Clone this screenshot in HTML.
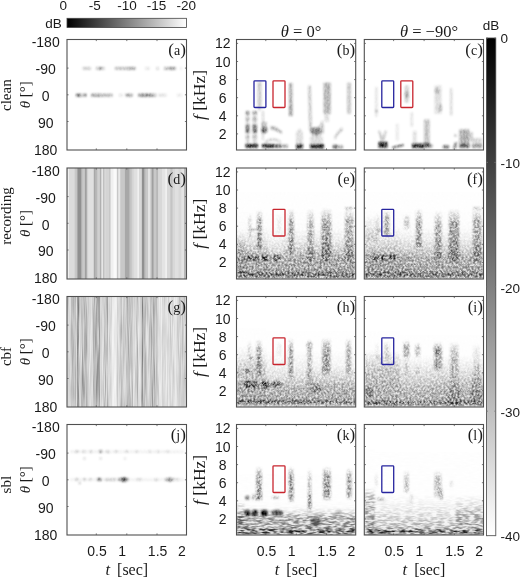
<!DOCTYPE html>
<html><head><meta charset="utf-8"><title>figure</title>
<style>
html,body{margin:0;padding:0;background:#fff;overflow:hidden;width:520px;height:580px;}
svg{display:block;}
.S{font-family:'Liberation Sans', Arial, sans-serif;fill:#1a1a1a;}
.R{font-family:'Liberation Serif', 'Times New Roman', serif;fill:#1a1a1a;}
.i{font-style:italic;}
</style></head><body>
<svg width="520" height="580" viewBox="0 0 520 580">
<rect width="520" height="580" fill="#fff"/>
<defs><clipPath id="ca"><rect x="67.0" y="39.5" width="119.5" height="110.5"/></clipPath><filter id="fa" filterUnits="userSpaceOnUse" x="67.0" y="39.5" width="119.5" height="110.5" color-interpolation-filters="sRGB"><feGaussianBlur in="SourceGraphic" stdDeviation="1.0" result="b"/><feTurbulence type="fractalNoise" baseFrequency="0.5 0.3" numOctaves="2" seed="2" result="t"/><feColorMatrix in="t" type="matrix" values="0 0 0 0 0 0 0 0 0 0 0 0 0 0 0 2.2 0 0 0 -0.6" result="n"/><feComposite in="b" in2="n" operator="arithmetic" k1="0.4" k2="0.8" k3="0" k4="0"/></filter><clipPath id="cb"><rect x="236.5" y="39.5" width="119.2" height="110.5"/></clipPath><filter id="fb" filterUnits="userSpaceOnUse" x="236.5" y="39.5" width="119.2" height="110.5" color-interpolation-filters="sRGB"><feGaussianBlur in="SourceGraphic" stdDeviation="1.0" result="b"/><feTurbulence type="fractalNoise" baseFrequency="0.5 0.3" numOctaves="2" seed="3" result="t"/><feColorMatrix in="t" type="matrix" values="0 0 0 0 0 0 0 0 0 0 0 0 0 0 0 2.2 0 0 0 -0.6" result="n"/><feComposite in="b" in2="n" operator="arithmetic" k1="0.4" k2="0.8" k3="0" k4="0"/></filter><clipPath id="cc"><rect x="364.3" y="39.5" width="119.2" height="110.5"/></clipPath><filter id="fc" filterUnits="userSpaceOnUse" x="364.3" y="39.5" width="119.2" height="110.5" color-interpolation-filters="sRGB"><feGaussianBlur in="SourceGraphic" stdDeviation="1.0" result="b"/><feTurbulence type="fractalNoise" baseFrequency="0.5 0.3" numOctaves="2" seed="4" result="t"/><feColorMatrix in="t" type="matrix" values="0 0 0 0 0 0 0 0 0 0 0 0 0 0 0 2.2 0 0 0 -0.6" result="n"/><feComposite in="b" in2="n" operator="arithmetic" k1="0.4" k2="0.8" k3="0" k4="0"/></filter><clipPath id="cd"><rect x="67.0" y="168.0" width="119.5" height="111.0"/></clipPath><filter id="fd" filterUnits="userSpaceOnUse" x="67.0" y="168.0" width="119.5" height="111.0" color-interpolation-filters="sRGB"><feGaussianBlur in="SourceGraphic" stdDeviation="0.5 0"/></filter><clipPath id="ce"><rect x="236.5" y="168.0" width="119.2" height="111.0"/></clipPath><filter id="fe" filterUnits="userSpaceOnUse" x="236.5" y="168.0" width="119.2" height="111.0" color-interpolation-filters="sRGB"><feGaussianBlur in="SourceGraphic" stdDeviation="0.9" result="b"/><feTurbulence type="fractalNoise" baseFrequency="0.5 0.42" numOctaves="2" seed="6" result="t"/><feColorMatrix in="t" type="matrix" values="0 0 0 0 0 0 0 0 0 0 0 0 0 0 0 2.2 0 0 0 -0.6" result="n0"/><feGaussianBlur in="n0" stdDeviation="0.6" result="n"/><feComposite in="b" in2="n" operator="arithmetic" k1="1.3" k2="0.35" k3="0" k4="0"/></filter><linearGradient id="vg1" gradientUnits="userSpaceOnUse" x1="0" x2="0" y1="168" y2="279"><stop offset="0.0000" stop-opacity="0.0"/><stop offset="0.3333" stop-opacity="0.003"/><stop offset="0.5405" stop-opacity="0.012"/><stop offset="0.6486" stop-opacity="0.08"/><stop offset="0.7387" stop-opacity="0.2"/><stop offset="0.8108" stop-opacity="0.3"/><stop offset="0.9369" stop-opacity="0.33"/><stop offset="0.9459" stop-opacity="0.5"/><stop offset="0.9775" stop-opacity="0.5"/><stop offset="0.9820" stop-opacity="0.25"/><stop offset="1.0000" stop-opacity="0.25"/></linearGradient><linearGradient id="vg2" gradientUnits="userSpaceOnUse" x1="0" x2="0" y1="168" y2="279"><stop offset="0.0000" stop-opacity="0.0"/><stop offset="0.3333" stop-opacity="0.003"/><stop offset="0.5405" stop-opacity="0.01"/><stop offset="0.6486" stop-opacity="0.05"/><stop offset="0.7387" stop-opacity="0.12"/><stop offset="0.8108" stop-opacity="0.28"/><stop offset="0.9369" stop-opacity="0.33"/><stop offset="0.9459" stop-opacity="0.5"/><stop offset="0.9775" stop-opacity="0.5"/><stop offset="0.9820" stop-opacity="0.25"/><stop offset="1.0000" stop-opacity="0.25"/></linearGradient><linearGradient id="vg3" gradientUnits="userSpaceOnUse" x1="0" x2="0" y1="168" y2="279"><stop offset="0.0000" stop-opacity="0.0"/><stop offset="0.3333" stop-opacity="0.003"/><stop offset="0.5405" stop-opacity="0.012"/><stop offset="0.6486" stop-opacity="0.07"/><stop offset="0.7387" stop-opacity="0.17"/><stop offset="0.8108" stop-opacity="0.3"/><stop offset="0.9369" stop-opacity="0.33"/><stop offset="0.9459" stop-opacity="0.5"/><stop offset="0.9775" stop-opacity="0.5"/><stop offset="0.9820" stop-opacity="0.25"/><stop offset="1.0000" stop-opacity="0.25"/></linearGradient><linearGradient id="vg4" gradientUnits="userSpaceOnUse" x1="0" x2="0" y1="234" y2="279"><stop offset="0.0000" stop-opacity="0"/><stop offset="0.2444" stop-opacity="0.1"/><stop offset="1.0000" stop-opacity="0.1"/></linearGradient><linearGradient id="vg5" gradientUnits="userSpaceOnUse" x1="0" x2="0" y1="210" y2="250"><stop offset="0.0000" stop-opacity="0"/><stop offset="0.3000" stop-opacity="0.322"/><stop offset="0.8500" stop-opacity="0.322"/><stop offset="1.0000" stop-opacity="0.1288"/></linearGradient><linearGradient id="vg6" gradientUnits="userSpaceOnUse" x1="0" x2="0" y1="213" y2="240"><stop offset="0.0000" stop-opacity="0"/><stop offset="0.3000" stop-opacity="0.138"/><stop offset="0.8500" stop-opacity="0.138"/><stop offset="1.0000" stop-opacity="0.055200000000000006"/></linearGradient><linearGradient id="vg7" gradientUnits="userSpaceOnUse" x1="0" x2="0" y1="209" y2="255"><stop offset="0.0000" stop-opacity="0"/><stop offset="0.3000" stop-opacity="0.322"/><stop offset="0.8500" stop-opacity="0.322"/><stop offset="1.0000" stop-opacity="0.1288"/></linearGradient><linearGradient id="vg8" gradientUnits="userSpaceOnUse" x1="0" x2="0" y1="214" y2="234"><stop offset="0.0000" stop-opacity="0"/><stop offset="0.3000" stop-opacity="0.055"/><stop offset="0.8500" stop-opacity="0.055"/><stop offset="1.0000" stop-opacity="0.022000000000000002"/></linearGradient><linearGradient id="vg9" gradientUnits="userSpaceOnUse" x1="0" x2="0" y1="209" y2="262"><stop offset="0.0000" stop-opacity="0"/><stop offset="0.3000" stop-opacity="0.258"/><stop offset="0.8500" stop-opacity="0.258"/><stop offset="1.0000" stop-opacity="0.10320000000000001"/></linearGradient><linearGradient id="vg10" gradientUnits="userSpaceOnUse" x1="0" x2="0" y1="208" y2="262"><stop offset="0.0000" stop-opacity="0"/><stop offset="0.3000" stop-opacity="0.322"/><stop offset="0.8500" stop-opacity="0.322"/><stop offset="1.0000" stop-opacity="0.1288"/></linearGradient><linearGradient id="vg11" gradientUnits="userSpaceOnUse" x1="0" x2="0" y1="208" y2="262"><stop offset="0.0000" stop-opacity="0"/><stop offset="0.3000" stop-opacity="0.258"/><stop offset="0.8500" stop-opacity="0.258"/><stop offset="1.0000" stop-opacity="0.10320000000000001"/></linearGradient><clipPath id="cf"><rect x="364.3" y="168.0" width="119.2" height="111.0"/></clipPath><filter id="ff" filterUnits="userSpaceOnUse" x="364.3" y="168.0" width="119.2" height="111.0" color-interpolation-filters="sRGB"><feGaussianBlur in="SourceGraphic" stdDeviation="0.9" result="b"/><feTurbulence type="fractalNoise" baseFrequency="0.5 0.42" numOctaves="2" seed="7" result="t"/><feColorMatrix in="t" type="matrix" values="0 0 0 0 0 0 0 0 0 0 0 0 0 0 0 2.2 0 0 0 -0.6" result="n0"/><feGaussianBlur in="n0" stdDeviation="0.6" result="n"/><feComposite in="b" in2="n" operator="arithmetic" k1="1.3" k2="0.35" k3="0" k4="0"/></filter><linearGradient id="vg12" gradientUnits="userSpaceOnUse" x1="0" x2="0" y1="168" y2="279"><stop offset="0.0000" stop-opacity="0.0"/><stop offset="0.3333" stop-opacity="0.003"/><stop offset="0.5405" stop-opacity="0.015"/><stop offset="0.6486" stop-opacity="0.1"/><stop offset="0.7387" stop-opacity="0.2"/><stop offset="0.8108" stop-opacity="0.33"/><stop offset="0.9369" stop-opacity="0.35"/><stop offset="0.9459" stop-opacity="0.5"/><stop offset="0.9775" stop-opacity="0.5"/><stop offset="0.9820" stop-opacity="0.25"/><stop offset="1.0000" stop-opacity="0.25"/></linearGradient><linearGradient id="vg13" gradientUnits="userSpaceOnUse" x1="0" x2="0" y1="168" y2="279"><stop offset="0.0000" stop-opacity="0.0"/><stop offset="0.3333" stop-opacity="0.003"/><stop offset="0.5405" stop-opacity="0.012"/><stop offset="0.6486" stop-opacity="0.07"/><stop offset="0.7387" stop-opacity="0.17"/><stop offset="0.8108" stop-opacity="0.3"/><stop offset="0.9369" stop-opacity="0.35"/><stop offset="0.9459" stop-opacity="0.5"/><stop offset="0.9775" stop-opacity="0.5"/><stop offset="0.9820" stop-opacity="0.25"/><stop offset="1.0000" stop-opacity="0.25"/></linearGradient><linearGradient id="vg14" gradientUnits="userSpaceOnUse" x1="0" x2="0" y1="168" y2="279"><stop offset="0.0000" stop-opacity="0.0"/><stop offset="0.3333" stop-opacity="0.003"/><stop offset="0.5405" stop-opacity="0.012"/><stop offset="0.6486" stop-opacity="0.07"/><stop offset="0.7387" stop-opacity="0.16"/><stop offset="0.8108" stop-opacity="0.28"/><stop offset="0.9369" stop-opacity="0.33"/><stop offset="0.9459" stop-opacity="0.48"/><stop offset="0.9775" stop-opacity="0.48"/><stop offset="0.9820" stop-opacity="0.25"/><stop offset="1.0000" stop-opacity="0.25"/></linearGradient><linearGradient id="vg15" gradientUnits="userSpaceOnUse" x1="0" x2="0" y1="215" y2="241"><stop offset="0.0000" stop-opacity="0"/><stop offset="0.5769" stop-opacity="0.08"/><stop offset="1.0000" stop-opacity="0.12"/></linearGradient><linearGradient id="vg16" gradientUnits="userSpaceOnUse" x1="0" x2="0" y1="211" y2="236"><stop offset="0.0000" stop-opacity="0"/><stop offset="0.3000" stop-opacity="0.322"/><stop offset="0.8500" stop-opacity="0.322"/><stop offset="1.0000" stop-opacity="0.1288"/></linearGradient><linearGradient id="vg17" gradientUnits="userSpaceOnUse" x1="0" x2="0" y1="213" y2="235"><stop offset="0.0000" stop-opacity="0"/><stop offset="0.3000" stop-opacity="0.11"/><stop offset="0.8500" stop-opacity="0.11"/><stop offset="1.0000" stop-opacity="0.044000000000000004"/></linearGradient><linearGradient id="vg18" gradientUnits="userSpaceOnUse" x1="0" x2="0" y1="215" y2="229"><stop offset="0.0000" stop-opacity="0"/><stop offset="0.3000" stop-opacity="0.184"/><stop offset="0.8500" stop-opacity="0.184"/><stop offset="1.0000" stop-opacity="0.0736"/></linearGradient><linearGradient id="vg19" gradientUnits="userSpaceOnUse" x1="0" x2="0" y1="209" y2="250"><stop offset="0.0000" stop-opacity="0"/><stop offset="0.3000" stop-opacity="0.322"/><stop offset="0.8500" stop-opacity="0.322"/><stop offset="1.0000" stop-opacity="0.1288"/></linearGradient><linearGradient id="vg20" gradientUnits="userSpaceOnUse" x1="0" x2="0" y1="211" y2="262"><stop offset="0.0000" stop-opacity="0"/><stop offset="0.3000" stop-opacity="0.276"/><stop offset="0.8500" stop-opacity="0.276"/><stop offset="1.0000" stop-opacity="0.11040000000000001"/></linearGradient><linearGradient id="vg21" gradientUnits="userSpaceOnUse" x1="0" x2="0" y1="209" y2="262"><stop offset="0.0000" stop-opacity="0"/><stop offset="0.3000" stop-opacity="0.322"/><stop offset="0.8500" stop-opacity="0.322"/><stop offset="1.0000" stop-opacity="0.1288"/></linearGradient><linearGradient id="vg22" gradientUnits="userSpaceOnUse" x1="0" x2="0" y1="208" y2="262"><stop offset="0.0000" stop-opacity="0"/><stop offset="0.3000" stop-opacity="0.276"/><stop offset="0.8500" stop-opacity="0.276"/><stop offset="1.0000" stop-opacity="0.11040000000000001"/></linearGradient><clipPath id="cg"><rect x="67.0" y="296.5" width="119.5" height="110.5"/></clipPath><filter id="fg" filterUnits="userSpaceOnUse" x="67.0" y="296.5" width="119.5" height="110.5" color-interpolation-filters="sRGB"><feGaussianBlur in="SourceGraphic" stdDeviation="0.5 0" result="b"/><feTurbulence type="fractalNoise" baseFrequency="0.8 0.025" numOctaves="2" seed="8" result="t"/><feColorMatrix in="t" type="matrix" values="0 0 0 0 0 0 0 0 0 0 0 0 0 0 0 2.0 0 0 0 -0.5" result="n"/><feComposite in="b" in2="n" operator="arithmetic" k1="0.9" k2="0.55" k3="0" k4="0"/></filter><clipPath id="ch"><rect x="236.5" y="296.5" width="119.2" height="110.5"/></clipPath><filter id="fh" filterUnits="userSpaceOnUse" x="236.5" y="296.5" width="119.2" height="110.5" color-interpolation-filters="sRGB"><feGaussianBlur in="SourceGraphic" stdDeviation="0.9" result="b"/><feTurbulence type="fractalNoise" baseFrequency="0.5 0.42" numOctaves="2" seed="9" result="t"/><feColorMatrix in="t" type="matrix" values="0 0 0 0 0 0 0 0 0 0 0 0 0 0 0 2.2 0 0 0 -0.6" result="n0"/><feGaussianBlur in="n0" stdDeviation="0.6" result="n"/><feComposite in="b" in2="n" operator="arithmetic" k1="1.3" k2="0.35" k3="0" k4="0"/></filter><linearGradient id="vg23" gradientUnits="userSpaceOnUse" x1="0" x2="0" y1="296.5" y2="407"><stop offset="0.0000" stop-opacity="0.0"/><stop offset="0.4389" stop-opacity="0.003"/><stop offset="0.5566" stop-opacity="0.06"/><stop offset="0.6290" stop-opacity="0.16"/><stop offset="0.7557" stop-opacity="0.24"/><stop offset="0.8281" stop-opacity="0.3"/><stop offset="0.9367" stop-opacity="0.32"/><stop offset="0.9412" stop-opacity="0.55"/><stop offset="0.9729" stop-opacity="0.55"/><stop offset="0.9774" stop-opacity="0.18"/><stop offset="1.0000" stop-opacity="0.18"/></linearGradient><linearGradient id="vg24" gradientUnits="userSpaceOnUse" x1="0" x2="0" y1="296.5" y2="407"><stop offset="0.0000" stop-opacity="0.0"/><stop offset="0.4842" stop-opacity="0.003"/><stop offset="0.6290" stop-opacity="0.05"/><stop offset="0.7376" stop-opacity="0.12"/><stop offset="0.8281" stop-opacity="0.26"/><stop offset="0.9367" stop-opacity="0.3"/><stop offset="0.9412" stop-opacity="0.5"/><stop offset="0.9729" stop-opacity="0.5"/><stop offset="0.9774" stop-opacity="0.18"/><stop offset="1.0000" stop-opacity="0.18"/></linearGradient><linearGradient id="vg25" gradientUnits="userSpaceOnUse" x1="0" x2="0" y1="296.5" y2="407"><stop offset="0.0000" stop-opacity="0.0"/><stop offset="0.4842" stop-opacity="0.003"/><stop offset="0.6290" stop-opacity="0.04"/><stop offset="0.7376" stop-opacity="0.15"/><stop offset="0.8281" stop-opacity="0.28"/><stop offset="0.9367" stop-opacity="0.3"/><stop offset="0.9412" stop-opacity="0.45"/><stop offset="0.9729" stop-opacity="0.45"/><stop offset="0.9774" stop-opacity="0.18"/><stop offset="1.0000" stop-opacity="0.18"/></linearGradient><linearGradient id="vg26" gradientUnits="userSpaceOnUse" x1="0" x2="0" y1="339.4" y2="376"><stop offset="0.0000" stop-opacity="0"/><stop offset="0.3000" stop-opacity="0.322"/><stop offset="0.8500" stop-opacity="0.322"/><stop offset="1.0000" stop-opacity="0.1288"/></linearGradient><linearGradient id="vg27" gradientUnits="userSpaceOnUse" x1="0" x2="0" y1="340.8" y2="362.3"><stop offset="0.0000" stop-opacity="0"/><stop offset="0.3000" stop-opacity="0.138"/><stop offset="0.8500" stop-opacity="0.138"/><stop offset="1.0000" stop-opacity="0.055200000000000006"/></linearGradient><linearGradient id="vg28" gradientUnits="userSpaceOnUse" x1="0" x2="0" y1="338" y2="380"><stop offset="0.0000" stop-opacity="0"/><stop offset="0.3000" stop-opacity="0.322"/><stop offset="0.8500" stop-opacity="0.322"/><stop offset="1.0000" stop-opacity="0.1288"/></linearGradient><linearGradient id="vg29" gradientUnits="userSpaceOnUse" x1="0" x2="0" y1="342" y2="355"><stop offset="0.0000" stop-opacity="0"/><stop offset="0.3000" stop-opacity="0.055"/><stop offset="0.8500" stop-opacity="0.055"/><stop offset="1.0000" stop-opacity="0.022000000000000002"/></linearGradient><linearGradient id="vg30" gradientUnits="userSpaceOnUse" x1="0" x2="0" y1="339.4" y2="384"><stop offset="0.0000" stop-opacity="0"/><stop offset="0.3000" stop-opacity="0.23"/><stop offset="0.8500" stop-opacity="0.23"/><stop offset="1.0000" stop-opacity="0.09200000000000001"/></linearGradient><linearGradient id="vg31" gradientUnits="userSpaceOnUse" x1="0" x2="0" y1="338" y2="375"><stop offset="0.0000" stop-opacity="0"/><stop offset="0.3000" stop-opacity="0.322"/><stop offset="0.8500" stop-opacity="0.322"/><stop offset="1.0000" stop-opacity="0.1288"/></linearGradient><linearGradient id="vg32" gradientUnits="userSpaceOnUse" x1="0" x2="0" y1="338" y2="375"><stop offset="0.0000" stop-opacity="0"/><stop offset="0.3000" stop-opacity="0.276"/><stop offset="0.8500" stop-opacity="0.276"/><stop offset="1.0000" stop-opacity="0.11040000000000001"/></linearGradient><clipPath id="ci"><rect x="364.3" y="296.5" width="119.2" height="110.5"/></clipPath><filter id="fi" filterUnits="userSpaceOnUse" x="364.3" y="296.5" width="119.2" height="110.5" color-interpolation-filters="sRGB"><feGaussianBlur in="SourceGraphic" stdDeviation="0.9" result="b"/><feTurbulence type="fractalNoise" baseFrequency="0.5 0.42" numOctaves="2" seed="10" result="t"/><feColorMatrix in="t" type="matrix" values="0 0 0 0 0 0 0 0 0 0 0 0 0 0 0 2.2 0 0 0 -0.6" result="n0"/><feGaussianBlur in="n0" stdDeviation="0.6" result="n"/><feComposite in="b" in2="n" operator="arithmetic" k1="1.3" k2="0.35" k3="0" k4="0"/></filter><linearGradient id="vg33" gradientUnits="userSpaceOnUse" x1="0" x2="0" y1="296.5" y2="407"><stop offset="0.0000" stop-opacity="0.0"/><stop offset="0.4842" stop-opacity="0.003"/><stop offset="0.5928" stop-opacity="0.12"/><stop offset="0.6833" stop-opacity="0.2"/><stop offset="0.8009" stop-opacity="0.27"/><stop offset="0.9439" stop-opacity="0.3"/><stop offset="0.9484" stop-opacity="0.5"/><stop offset="0.9792" stop-opacity="0.5"/><stop offset="0.9837" stop-opacity="0.18"/><stop offset="1.0000" stop-opacity="0.18"/></linearGradient><linearGradient id="vg34" gradientUnits="userSpaceOnUse" x1="0" x2="0" y1="296.5" y2="407"><stop offset="0.0000" stop-opacity="0.0"/><stop offset="0.5294" stop-opacity="0.003"/><stop offset="0.6290" stop-opacity="0.06"/><stop offset="0.7376" stop-opacity="0.14"/><stop offset="0.8462" stop-opacity="0.25"/><stop offset="0.9439" stop-opacity="0.28"/><stop offset="0.9484" stop-opacity="0.45"/><stop offset="0.9792" stop-opacity="0.45"/><stop offset="0.9837" stop-opacity="0.18"/><stop offset="1.0000" stop-opacity="0.18"/></linearGradient><linearGradient id="vg35" gradientUnits="userSpaceOnUse" x1="0" x2="0" y1="296.5" y2="407"><stop offset="0.0000" stop-opacity="0.0"/><stop offset="0.5294" stop-opacity="0.003"/><stop offset="0.6290" stop-opacity="0.06"/><stop offset="0.7376" stop-opacity="0.16"/><stop offset="0.8462" stop-opacity="0.27"/><stop offset="0.9439" stop-opacity="0.3"/><stop offset="0.9484" stop-opacity="0.45"/><stop offset="0.9792" stop-opacity="0.45"/><stop offset="0.9837" stop-opacity="0.18"/><stop offset="1.0000" stop-opacity="0.18"/></linearGradient><linearGradient id="vg36" gradientUnits="userSpaceOnUse" x1="0" x2="0" y1="340.8" y2="361"><stop offset="0.0000" stop-opacity="0"/><stop offset="0.3000" stop-opacity="0.129"/><stop offset="0.8500" stop-opacity="0.129"/><stop offset="1.0000" stop-opacity="0.05160000000000001"/></linearGradient><linearGradient id="vg37" gradientUnits="userSpaceOnUse" x1="0" x2="0" y1="342" y2="358"><stop offset="0.0000" stop-opacity="0"/><stop offset="0.3000" stop-opacity="0.092"/><stop offset="0.8500" stop-opacity="0.092"/><stop offset="1.0000" stop-opacity="0.0368"/></linearGradient><linearGradient id="vg38" gradientUnits="userSpaceOnUse" x1="0" x2="0" y1="340.8" y2="358"><stop offset="0.0000" stop-opacity="0"/><stop offset="0.3000" stop-opacity="0.276"/><stop offset="0.8500" stop-opacity="0.276"/><stop offset="1.0000" stop-opacity="0.11040000000000001"/></linearGradient><linearGradient id="vg39" gradientUnits="userSpaceOnUse" x1="0" x2="0" y1="357" y2="377"><stop offset="0.0000" stop-opacity="0"/><stop offset="0.3000" stop-opacity="0.11"/><stop offset="0.8500" stop-opacity="0.11"/><stop offset="1.0000" stop-opacity="0.044000000000000004"/></linearGradient><linearGradient id="vg40" gradientUnits="userSpaceOnUse" x1="0" x2="0" y1="343" y2="357"><stop offset="0.0000" stop-opacity="0"/><stop offset="0.3000" stop-opacity="0.202"/><stop offset="0.8500" stop-opacity="0.202"/><stop offset="1.0000" stop-opacity="0.08080000000000001"/></linearGradient><linearGradient id="vg41" gradientUnits="userSpaceOnUse" x1="0" x2="0" y1="366" y2="375"><stop offset="0.0000" stop-opacity="0"/><stop offset="0.3000" stop-opacity="0.11"/><stop offset="0.8500" stop-opacity="0.11"/><stop offset="1.0000" stop-opacity="0.044000000000000004"/></linearGradient><linearGradient id="vg42" gradientUnits="userSpaceOnUse" x1="0" x2="0" y1="342" y2="371"><stop offset="0.0000" stop-opacity="0"/><stop offset="0.3000" stop-opacity="0.276"/><stop offset="0.8500" stop-opacity="0.276"/><stop offset="1.0000" stop-opacity="0.11040000000000001"/></linearGradient><linearGradient id="vg43" gradientUnits="userSpaceOnUse" x1="0" x2="0" y1="342" y2="375"><stop offset="0.0000" stop-opacity="0"/><stop offset="0.3000" stop-opacity="0.202"/><stop offset="0.8500" stop-opacity="0.202"/><stop offset="1.0000" stop-opacity="0.08080000000000001"/></linearGradient><linearGradient id="vg44" gradientUnits="userSpaceOnUse" x1="0" x2="0" y1="344" y2="370"><stop offset="0.0000" stop-opacity="0"/><stop offset="0.3000" stop-opacity="0.074"/><stop offset="0.8500" stop-opacity="0.074"/><stop offset="1.0000" stop-opacity="0.0296"/></linearGradient><clipPath id="cj"><rect x="67.0" y="424.5" width="119.5" height="110.5"/></clipPath><filter id="fj" filterUnits="userSpaceOnUse" x="67.0" y="424.5" width="119.5" height="110.5" color-interpolation-filters="sRGB"><feGaussianBlur in="SourceGraphic" stdDeviation="1.0" result="b"/><feTurbulence type="fractalNoise" baseFrequency="0.5 0.3" numOctaves="2" seed="11" result="t"/><feColorMatrix in="t" type="matrix" values="0 0 0 0 0 0 0 0 0 0 0 0 0 0 0 2.2 0 0 0 -0.6" result="n"/><feComposite in="b" in2="n" operator="arithmetic" k1="0.4" k2="0.8" k3="0" k4="0"/></filter><clipPath id="ck"><rect x="236.5" y="424.5" width="119.2" height="110.5"/></clipPath><filter id="fk" filterUnits="userSpaceOnUse" x="236.5" y="424.5" width="119.2" height="110.5" color-interpolation-filters="sRGB"><feGaussianBlur in="SourceGraphic" stdDeviation="0.8" result="b"/><feTurbulence type="fractalNoise" baseFrequency="0.16 0.55" numOctaves="2" seed="12" result="t"/><feColorMatrix in="t" type="matrix" values="0 0 0 0 0 0 0 0 0 0 0 0 0 0 0 2.8 0 0 0 -0.95" result="n0"/><feGaussianBlur in="n0" stdDeviation="0.4" result="n"/><feComposite in="b" in2="n" operator="arithmetic" k1="1.5" k2="0.28" k3="0" k4="0"/></filter><filter id="fk2" filterUnits="userSpaceOnUse" x="236.5" y="424.5" width="119.2" height="110.5" color-interpolation-filters="sRGB"><feGaussianBlur in="SourceGraphic" stdDeviation="0.9" result="b"/><feTurbulence type="fractalNoise" baseFrequency="0.5 0.42" numOctaves="2" seed="30" result="t"/><feColorMatrix in="t" type="matrix" values="0 0 0 0 0 0 0 0 0 0 0 0 0 0 0 2.2 0 0 0 -0.6" result="n0"/><feGaussianBlur in="n0" stdDeviation="0.6" result="n"/><feComposite in="b" in2="n" operator="arithmetic" k1="1.3" k2="0.35" k3="0" k4="0"/></filter><filter id="fk3" filterUnits="userSpaceOnUse" x="236.5" y="424.5" width="119.2" height="110.5" color-interpolation-filters="sRGB"><feGaussianBlur in="SourceGraphic" stdDeviation="1.0" result="b"/><feTurbulence type="fractalNoise" baseFrequency="0.5 0.3" numOctaves="2" seed="50" result="t"/><feColorMatrix in="t" type="matrix" values="0 0 0 0 0 0 0 0 0 0 0 0 0 0 0 2.2 0 0 0 -0.6" result="n"/><feComposite in="b" in2="n" operator="arithmetic" k1="0.4" k2="0.8" k3="0" k4="0"/></filter><linearGradient id="vg45" gradientUnits="userSpaceOnUse" x1="0" x2="0" y1="424.5" y2="535"><stop offset="0.0000" stop-opacity="0.0"/><stop offset="0.6833" stop-opacity="0.003"/><stop offset="0.7557" stop-opacity="0.015"/><stop offset="0.8009" stop-opacity="0.1"/><stop offset="0.8371" stop-opacity="0.26"/><stop offset="0.9367" stop-opacity="0.3"/><stop offset="0.9584" stop-opacity="0.5"/><stop offset="0.9910" stop-opacity="0.5"/><stop offset="0.9955" stop-opacity="0.2"/><stop offset="1.0000" stop-opacity="0.2"/></linearGradient><linearGradient id="vg46" gradientUnits="userSpaceOnUse" x1="0" x2="0" y1="500" y2="535"><stop offset="0.0000" stop-opacity="0"/><stop offset="0.2286" stop-opacity="0.12"/><stop offset="1.0000" stop-opacity="0.12"/></linearGradient><linearGradient id="vg47" gradientUnits="userSpaceOnUse" x1="0" x2="0" y1="466.6" y2="500"><stop offset="0.0000" stop-opacity="0"/><stop offset="0.3000" stop-opacity="0.36"/><stop offset="0.8500" stop-opacity="0.36"/><stop offset="1.0000" stop-opacity="0.144"/></linearGradient><linearGradient id="vg48" gradientUnits="userSpaceOnUse" x1="0" x2="0" y1="466.6" y2="502"><stop offset="0.0000" stop-opacity="0"/><stop offset="0.3000" stop-opacity="0.36"/><stop offset="0.8500" stop-opacity="0.36"/><stop offset="1.0000" stop-opacity="0.144"/></linearGradient><linearGradient id="vg49" gradientUnits="userSpaceOnUse" x1="0" x2="0" y1="468" y2="512"><stop offset="0.0000" stop-opacity="0"/><stop offset="0.3000" stop-opacity="0.252"/><stop offset="0.8500" stop-opacity="0.252"/><stop offset="1.0000" stop-opacity="0.1008"/></linearGradient><linearGradient id="vg50" gradientUnits="userSpaceOnUse" x1="0" x2="0" y1="466.6" y2="500"><stop offset="0.0000" stop-opacity="0"/><stop offset="0.3000" stop-opacity="0.342"/><stop offset="0.8500" stop-opacity="0.342"/><stop offset="1.0000" stop-opacity="0.1368"/></linearGradient><linearGradient id="vg51" gradientUnits="userSpaceOnUse" x1="0" x2="0" y1="468" y2="499"><stop offset="0.0000" stop-opacity="0"/><stop offset="0.3000" stop-opacity="0.315"/><stop offset="0.8500" stop-opacity="0.315"/><stop offset="1.0000" stop-opacity="0.126"/></linearGradient><linearGradient id="vg52" gradientUnits="userSpaceOnUse" x1="0" x2="0" y1="492" y2="509"><stop offset="0.0000" stop-opacity="0"/><stop offset="0.3000" stop-opacity="0.27"/><stop offset="0.8500" stop-opacity="0.27"/><stop offset="1.0000" stop-opacity="0.10800000000000001"/></linearGradient><clipPath id="cl"><rect x="364.3" y="424.5" width="119.2" height="110.5"/></clipPath><filter id="fl" filterUnits="userSpaceOnUse" x="364.3" y="424.5" width="119.2" height="110.5" color-interpolation-filters="sRGB"><feGaussianBlur in="SourceGraphic" stdDeviation="0.8" result="b"/><feTurbulence type="fractalNoise" baseFrequency="0.16 0.55" numOctaves="2" seed="13" result="t"/><feColorMatrix in="t" type="matrix" values="0 0 0 0 0 0 0 0 0 0 0 0 0 0 0 2.8 0 0 0 -0.95" result="n0"/><feGaussianBlur in="n0" stdDeviation="0.4" result="n"/><feComposite in="b" in2="n" operator="arithmetic" k1="1.5" k2="0.28" k3="0" k4="0"/></filter><filter id="fl2" filterUnits="userSpaceOnUse" x="364.3" y="424.5" width="119.2" height="110.5" color-interpolation-filters="sRGB"><feGaussianBlur in="SourceGraphic" stdDeviation="0.9" result="b"/><feTurbulence type="fractalNoise" baseFrequency="0.5 0.42" numOctaves="2" seed="31" result="t"/><feColorMatrix in="t" type="matrix" values="0 0 0 0 0 0 0 0 0 0 0 0 0 0 0 2.2 0 0 0 -0.6" result="n0"/><feGaussianBlur in="n0" stdDeviation="0.6" result="n"/><feComposite in="b" in2="n" operator="arithmetic" k1="1.3" k2="0.35" k3="0" k4="0"/></filter><filter id="fl3" filterUnits="userSpaceOnUse" x="364.3" y="424.5" width="119.2" height="110.5" color-interpolation-filters="sRGB"><feGaussianBlur in="SourceGraphic" stdDeviation="1.0" result="b"/><feTurbulence type="fractalNoise" baseFrequency="0.5 0.3" numOctaves="2" seed="51" result="t"/><feColorMatrix in="t" type="matrix" values="0 0 0 0 0 0 0 0 0 0 0 0 0 0 0 2.2 0 0 0 -0.6" result="n"/><feComposite in="b" in2="n" operator="arithmetic" k1="0.4" k2="0.8" k3="0" k4="0"/></filter><linearGradient id="vg53" gradientUnits="userSpaceOnUse" x1="0" x2="0" y1="424.5" y2="535"><stop offset="0.0000" stop-opacity="0.0"/><stop offset="0.5747" stop-opacity="0.005"/><stop offset="0.6380" stop-opacity="0.15"/><stop offset="0.8190" stop-opacity="0.25"/><stop offset="0.9457" stop-opacity="0.35"/><stop offset="0.9584" stop-opacity="0.5"/><stop offset="0.9910" stop-opacity="0.5"/><stop offset="0.9955" stop-opacity="0.2"/><stop offset="1.0000" stop-opacity="0.2"/></linearGradient><linearGradient id="vg54" gradientUnits="userSpaceOnUse" x1="0" x2="0" y1="424.5" y2="535"><stop offset="0.0000" stop-opacity="0.0"/><stop offset="0.6380" stop-opacity="0.005"/><stop offset="0.7285" stop-opacity="0.04"/><stop offset="0.7919" stop-opacity="0.08"/><stop offset="0.8643" stop-opacity="0.14"/><stop offset="0.9457" stop-opacity="0.22"/><stop offset="0.9584" stop-opacity="0.5"/><stop offset="0.9910" stop-opacity="0.5"/><stop offset="0.9955" stop-opacity="0.2"/><stop offset="1.0000" stop-opacity="0.2"/></linearGradient><linearGradient id="vg55" gradientUnits="userSpaceOnUse" x1="0" x2="0" y1="424.5" y2="535"><stop offset="0.0000" stop-opacity="0.0"/><stop offset="0.6380" stop-opacity="0.005"/><stop offset="0.7285" stop-opacity="0.08"/><stop offset="0.7919" stop-opacity="0.18"/><stop offset="0.8643" stop-opacity="0.25"/><stop offset="0.9457" stop-opacity="0.25"/><stop offset="0.9584" stop-opacity="0.5"/><stop offset="0.9910" stop-opacity="0.5"/><stop offset="0.9955" stop-opacity="0.2"/><stop offset="1.0000" stop-opacity="0.2"/></linearGradient><linearGradient id="vg56" gradientUnits="userSpaceOnUse" x1="0" x2="0" y1="470.6" y2="493"><stop offset="0.0000" stop-opacity="0"/><stop offset="0.3000" stop-opacity="0.198"/><stop offset="0.8500" stop-opacity="0.198"/><stop offset="1.0000" stop-opacity="0.0792"/></linearGradient><linearGradient id="vg57" gradientUnits="userSpaceOnUse" x1="0" x2="0" y1="491.9" y2="505"><stop offset="0.0000" stop-opacity="0"/><stop offset="0.3000" stop-opacity="0.135"/><stop offset="0.8500" stop-opacity="0.135"/><stop offset="1.0000" stop-opacity="0.054000000000000006"/></linearGradient><linearGradient id="vg58" gradientUnits="userSpaceOnUse" x1="0" x2="0" y1="473" y2="487"><stop offset="0.0000" stop-opacity="0"/><stop offset="0.3000" stop-opacity="0.108"/><stop offset="0.8500" stop-opacity="0.108"/><stop offset="1.0000" stop-opacity="0.0432"/></linearGradient><linearGradient id="vg59" gradientUnits="userSpaceOnUse" x1="0" x2="0" y1="470.6" y2="497.2"><stop offset="0.0000" stop-opacity="0"/><stop offset="0.3000" stop-opacity="0.198"/><stop offset="0.8500" stop-opacity="0.198"/><stop offset="1.0000" stop-opacity="0.0792"/></linearGradient><linearGradient id="vg60" gradientUnits="userSpaceOnUse" x1="0" x2="0" y1="488" y2="500"><stop offset="0.0000" stop-opacity="0"/><stop offset="0.3000" stop-opacity="0.225"/><stop offset="0.8500" stop-opacity="0.225"/><stop offset="1.0000" stop-opacity="0.09000000000000001"/></linearGradient><linearGradient id="vg61" gradientUnits="userSpaceOnUse" x1="0" x2="0" y1="480" y2="487"><stop offset="0.0000" stop-opacity="0"/><stop offset="0.3000" stop-opacity="0.108"/><stop offset="0.8500" stop-opacity="0.108"/><stop offset="1.0000" stop-opacity="0.0432"/></linearGradient></defs>
<g clip-path="url(#ca)"><g filter="url(#fa)" fill="#000"><rect x="82.7" y="67" width="8.3" height="2.8" fill-opacity="0.2"/><rect x="95.8" y="67" width="8.9" height="2.8" fill-opacity="0.2"/><rect x="98.8" y="67" width="2.4" height="2.8" fill-opacity="0.35"/><rect x="114.9" y="67" width="13.1" height="2.8" fill-opacity="0.25"/><rect x="128" y="67" width="7.5" height="2.8" fill-opacity="0.35"/><rect x="145" y="67" width="4.8" height="2.8" fill-opacity="0.1"/><rect x="156.4" y="67" width="2.4" height="2.8" fill-opacity="0.18"/><rect x="164" y="67" width="12.0" height="2.8" fill-opacity="0.28"/><rect x="170" y="67" width="4.0" height="2.8" fill-opacity="0.2"/><rect x="180" y="67" width="2.0" height="2.8" fill-opacity="0.08"/><rect x="76" y="93.8" width="5.5" height="2.8" fill-opacity="0.55"/><rect x="83.3" y="93.8" width="3.0" height="2.8" fill-opacity="0.55"/><rect x="91" y="93.8" width="21.5" height="2.8" fill-opacity="0.3"/><rect x="91.6" y="93.8" width="9.4" height="2.8" fill-opacity="0.15"/><rect x="119" y="93.8" width="3.6" height="2.8" fill-opacity="0.1"/><rect x="125.6" y="93.8" width="6.9" height="2.8" fill-opacity="0.38"/><rect x="138" y="93.8" width="17.8" height="2.8" fill-opacity="0.38"/><rect x="140.5" y="93.8" width="11.5" height="2.8" fill-opacity="0.2"/><rect x="158" y="93.8" width="8.5" height="2.8" fill-opacity="0.12"/><rect x="177" y="93.8" width="5.0" height="2.8" fill-opacity="0.08"/></g></g>
<g clip-path="url(#cb)"><g filter="url(#fb)" fill="#000"><rect x="245.8" y="111" width="3.5" height="33.0" fill-opacity="0.16"/><rect x="252.7" y="111" width="4.1" height="33.0" fill-opacity="0.16"/><rect x="245.8" y="111.3" width="3.5" height="2.9" fill-opacity="0.35"/><rect x="252.7" y="111.3" width="4.1" height="2.9" fill-opacity="0.3"/><rect x="245.8" y="125" width="3.5" height="7.7" fill-opacity="0.5"/><rect x="252.7" y="125" width="4.1" height="7.7" fill-opacity="0.5"/><rect x="245.8" y="118" width="3.5" height="2.0" fill-opacity="0.25"/><rect x="252.7" y="118" width="4.1" height="2.0" fill-opacity="0.25"/><rect x="245.8" y="136" width="3.5" height="2.0" fill-opacity="0.2"/><rect x="252.7" y="136" width="4.1" height="2.0" fill-opacity="0.2"/><rect x="245.5" y="144.2" width="12.5" height="3.5" fill-opacity="0.85"/><rect x="262" y="111" width="2.0" height="29.0" fill-opacity="0.15"/><ellipse cx="264.3" cy="130" rx="3" ry="3.2" fill-opacity="0.55"/><rect x="261.5" y="122" width="5.5" height="5.0" fill-opacity="0.2"/><rect x="262" y="144.2" width="12.0" height="3.5" fill-opacity="0.85"/><rect x="274" y="144.4" width="7.0" height="3.3" fill-opacity="0.6"/><rect x="281" y="144.6" width="7.0" height="3.1" fill-opacity="0.35"/><polygon points="270.6,125.8 276,127 282,131.5 282,134 276,131 270.6,129.5" fill-opacity="0.28"/><polygon points="265,141 270,138.4 276,138.4 281,141 281,143 276,141 270,141 265,144" fill-opacity="0.18"/><rect x="289" y="83" width="3.5" height="33.0" fill-opacity="0.3"/><rect x="289" y="105" width="3.5" height="11.0" fill-opacity="0.1"/><rect x="257.5" y="82" width="4.0" height="25.0" fill-opacity="0.2"/><rect x="258" y="107" width="3.0" height="4.0" fill-opacity="0.12"/><polygon points="308,85.6 310.9,85.6 312,127 316,128 320,125 322,120 324,125 324,133 318,137 312,136 309,130" fill-opacity="0.2"/><ellipse cx="316" cy="131" rx="5.5" ry="3.5" fill-opacity="0.35"/><rect x="310" y="136.5" width="13.0" height="7.0" fill-opacity="0.12"/><rect x="323.6" y="82.7" width="7.1" height="31.1" fill-opacity="0.28"/><rect x="324.5" y="113.8" width="4.5" height="8.2" fill-opacity="0.12"/><rect x="347" y="82.7" width="4.0" height="31.1" fill-opacity="0.2"/><rect x="296" y="144.3" width="7.0" height="4.2" fill-opacity="0.8"/><polygon points="296,144 296,132 300,128 303,133 303,144" fill-opacity="0.12"/><rect x="310" y="144.3" width="14.0" height="4.2" fill-opacity="0.85"/><rect x="332.8" y="144.8" width="4.2" height="3.7" fill-opacity="0.6"/><rect x="337" y="145.3" width="6.0" height="3.2" fill-opacity="0.35"/><polygon points="334,137 338,131 342,127 343,130 338,135 335,140" fill-opacity="0.2"/></g></g>
<g clip-path="url(#cc)"><g filter="url(#fc)" fill="#000"><rect x="375.3" y="87" width="2.1" height="29.7" fill-opacity="0.12"/><ellipse cx="376.3" cy="111" rx="1.2" ry="1.5" fill-opacity="0.25"/><rect x="404.8" y="85.6" width="4.0" height="16.9" fill-opacity="0.18"/><rect x="404.8" y="92.6" width="4.0" height="4.3" fill-opacity="0.25"/><rect x="410.7" y="112.4" width="2.1" height="14.2" fill-opacity="0.12"/><polygon points="378,130.8 380,130.8 382.5,137 385,130.8 387,130.8 384,140.7 381,140.7" fill-opacity="0.22"/><rect x="378.5" y="141.8" width="9.0" height="6.0" fill-opacity="0.8"/><polygon points="392.3,146.8 403.6,144.3 403.6,146 392.3,148.3" fill-opacity="0.7"/><rect x="395.8" y="123.7" width="2.8" height="17.0" fill-opacity="0.08"/><rect x="412" y="143.6" width="12.0" height="4.4" fill-opacity="0.8"/><rect x="413" y="130.8" width="3.5" height="12.7" fill-opacity="0.12"/><rect x="424" y="119.5" width="5.7" height="26.9" fill-opacity="0.22"/><rect x="424" y="143" width="5.7" height="4.5" fill-opacity="0.6"/><rect x="429.7" y="144.5" width="2.8" height="3.0" fill-opacity="0.4"/><rect x="434.5" y="85.6" width="7.0" height="28.2" fill-opacity="0.12"/><ellipse cx="437" cy="91" rx="2" ry="3" fill-opacity="0.2"/><ellipse cx="440.5" cy="108" rx="1.6" ry="3.5" fill-opacity="0.22"/><rect x="450" y="88.4" width="2.3" height="26.9" fill-opacity="0.15"/><ellipse cx="446" cy="146.7" rx="3.5" ry="1.8" fill-opacity="0.5"/><polygon points="453,148.5 454.5,143 457.2,142 456,148.5" fill-opacity="0.5"/><ellipse cx="455.5" cy="135.5" rx="1.2" ry="1.5" fill-opacity="0.25"/><rect x="459.4" y="129.4" width="9.9" height="18.4" fill-opacity="0.3"/><rect x="459.4" y="144" width="9.9" height="3.8" fill-opacity="0.45"/><rect x="469.3" y="132" width="3.5" height="8.7" fill-opacity="0.18"/><rect x="472" y="138" width="10.0" height="9.8" fill-opacity="0.15"/><rect x="472" y="144.5" width="10.0" height="3.3" fill-opacity="0.3"/></g></g>
<g clip-path="url(#cd)"><g filter="url(#fd)" fill="#000"><rect x="66.8" y="168" width="1.2" height="111.0" fill-opacity="0.153"/><rect x="68.0" y="168" width="1.0" height="111.0" fill-opacity="0.059"/><rect x="69.0" y="168" width="5.5" height="111.0" fill-opacity="0.137"/><rect x="74.5" y="168" width="2.3" height="111.0" fill-opacity="0.216"/><rect x="76.8" y="168" width="0.7" height="111.0" fill-opacity="0.341"/><rect x="77.5" y="168" width="3.5" height="111.0" fill-opacity="0.435"/><rect x="81.0" y="168" width="1.5" height="111.0" fill-opacity="0.31"/><rect x="82.5" y="168" width="2.3" height="111.0" fill-opacity="0.216"/><rect x="84.8" y="168" width="2.0" height="111.0" fill-opacity="0.373"/><rect x="86.8" y="168" width="1.5" height="111.0" fill-opacity="0.184"/><rect x="88.3" y="168" width="5.4" height="111.0" fill-opacity="0.122"/><rect x="93.7" y="168" width="1.9" height="111.0" fill-opacity="0.341"/><rect x="95.6" y="168" width="1.9" height="111.0" fill-opacity="0.278"/><rect x="97.5" y="168" width="2.3" height="111.0" fill-opacity="0.184"/><rect x="99.8" y="168" width="1.6" height="111.0" fill-opacity="0.31"/><rect x="101.4" y="168" width="1.5" height="111.0" fill-opacity="0.09"/><rect x="102.9" y="168" width="1.6" height="111.0" fill-opacity="0.247"/><rect x="104.5" y="168" width="1.5" height="111.0" fill-opacity="0.153"/><rect x="106.0" y="168" width="3.0" height="111.0" fill-opacity="0.169"/><rect x="109.0" y="168" width="1.6" height="111.0" fill-opacity="0.216"/><rect x="110.6" y="168" width="3.1" height="111.0" fill-opacity="0.059"/><rect x="113.7" y="168" width="3.1" height="111.0" fill-opacity="0.02"/><rect x="116.8" y="168" width="1.5" height="111.0" fill-opacity="0.216"/><rect x="118.3" y="168" width="1.9" height="111.0" fill-opacity="0.09"/><rect x="120.2" y="168" width="4.6" height="111.0" fill-opacity="0.216"/><rect x="124.8" y="168" width="4.2" height="111.0" fill-opacity="0.341"/><rect x="129.0" y="168" width="1.6" height="111.0" fill-opacity="0.278"/><rect x="130.6" y="168" width="1.9" height="111.0" fill-opacity="0.216"/><rect x="132.5" y="168" width="2.0" height="111.0" fill-opacity="0.153"/><rect x="134.5" y="168" width="3.0" height="111.0" fill-opacity="0.122"/><rect x="137.5" y="168" width="1.5" height="111.0" fill-opacity="0.059"/><rect x="139.0" y="168" width="2.8" height="111.0" fill-opacity="0.153"/><rect x="141.8" y="168" width="2.7" height="111.0" fill-opacity="0.435"/><rect x="144.5" y="168" width="1.5" height="111.0" fill-opacity="0.247"/><rect x="146.0" y="168" width="2.0" height="111.0" fill-opacity="0.216"/><rect x="148.0" y="168" width="2.4" height="111.0" fill-opacity="0.106"/><rect x="150.4" y="168" width="1.3" height="111.0" fill-opacity="0.247"/><rect x="151.7" y="168" width="2.0" height="111.0" fill-opacity="0.373"/><rect x="153.7" y="168" width="2.4" height="111.0" fill-opacity="0.216"/><rect x="156.1" y="168" width="2.0" height="111.0" fill-opacity="0.278"/><rect x="158.1" y="168" width="4.1" height="111.0" fill-opacity="0.153"/><rect x="162.2" y="168" width="3.2" height="111.0" fill-opacity="0.106"/><rect x="165.4" y="168" width="1.6" height="111.0" fill-opacity="0.059"/><rect x="167.0" y="168" width="3.2" height="111.0" fill-opacity="0.153"/><rect x="170.2" y="168" width="2.5" height="111.0" fill-opacity="0.231"/><rect x="172.7" y="168" width="2.3" height="111.0" fill-opacity="0.153"/><rect x="175.0" y="168" width="3.3" height="111.0" fill-opacity="0.122"/><rect x="178.3" y="168" width="3.2" height="111.0" fill-opacity="0.153"/><rect x="181.5" y="168" width="2.5" height="111.0" fill-opacity="0.106"/><rect x="184.0" y="168" width="2.5" height="111.0" fill-opacity="0.278"/></g></g>
<g clip-path="url(#ce)"><g filter="url(#fe)" fill="#000"><rect x="236.5" y="168" width="31.5" height="111.0" fill="url(#vg1)"/><rect x="268" y="168" width="16.0" height="111.0" fill="url(#vg2)"/><rect x="284" y="168" width="71.7" height="111.0" fill="url(#vg3)"/><rect x="236.5" y="234" width="8.5" height="45.0" fill="url(#vg4)"/><rect x="257.14" y="210" width="4.6" height="40.0" fill="url(#vg5)"/><rect x="248.624" y="213" width="2.4" height="27.0" fill="url(#vg6)"/><rect x="249.8" y="229" width="5.5" height="1.5" fill-opacity="0.35"/><rect x="288.84799999999996" y="209" width="4.7" height="46.0" fill="url(#vg7)"/><rect x="277.32" y="214" width="3.4" height="20.0" fill="url(#vg8)"/><rect x="307.56" y="209" width="5.9" height="53.0" fill="url(#vg9)"/><rect x="321.696" y="208" width="9.4" height="54.0" fill="url(#vg10)"/><rect x="345.076" y="208" width="8.1" height="54.0" fill="url(#vg11)"/><rect x="345" y="207.5" width="8.0" height="1.3" fill-opacity="0.3"/><rect x="346" y="220" width="8.0" height="1.5" fill-opacity="0.3"/><ellipse cx="248.5" cy="258" rx="3" ry="3" fill-opacity="0.4"/><ellipse cx="255.3" cy="258" rx="3" ry="3" fill-opacity="0.4"/><ellipse cx="265" cy="258" rx="3.2" ry="3" fill-opacity="0.45"/><ellipse cx="276.5" cy="258" rx="3.8" ry="3" fill-opacity="0.38"/></g></g>
<g clip-path="url(#cf)"><g filter="url(#ff)" fill="#000"><rect x="364.3" y="168" width="35.7" height="111.0" fill="url(#vg12)"/><rect x="400" y="168" width="14.0" height="111.0" fill="url(#vg13)"/><rect x="414" y="168" width="69.5" height="111.0" fill="url(#vg14)"/><rect x="364.3" y="215" width="13.7" height="26.0" fill="url(#vg15)"/><rect x="384.44" y="211" width="4.6" height="25.0" fill="url(#vg16)"/><rect x="376.62399999999997" y="213" width="2.4" height="22.0" fill="url(#vg17)"/><rect x="377" y="229" width="3.5" height="1.5" fill-opacity="0.45"/><rect x="404.44" y="215" width="4.6" height="14.0" fill="url(#vg18)"/><rect x="416.204" y="209" width="5.3" height="41.0" fill="url(#vg19)"/><rect x="434.916" y="211" width="6.5" height="51.0" fill="url(#vg20)"/><rect x="448.96" y="209" width="10.1" height="53.0" fill="url(#vg21)"/><rect x="473.076" y="208" width="8.1" height="54.0" fill="url(#vg22)"/><rect x="473" y="207.5" width="8.0" height="1.3" fill-opacity="0.3"/><rect x="473" y="220" width="8.0" height="1.5" fill-opacity="0.3"/><ellipse cx="375" cy="257.5" rx="3" ry="3" fill-opacity="0.42"/><ellipse cx="383.2" cy="257.5" rx="3" ry="3" fill-opacity="0.42"/><ellipse cx="392.3" cy="257.5" rx="3.2" ry="3" fill-opacity="0.45"/></g></g>
<g clip-path="url(#cg)"><g filter="url(#fg)" fill="#000"><rect x="67.0" y="296.5" width="4.3" height="110.5" fill-opacity="0.148"/><rect x="71.3" y="296.5" width="2.9" height="110.5" fill-opacity="0.263"/><rect x="74.2" y="296.5" width="3.0" height="110.5" fill-opacity="0.225"/><rect x="77.2" y="296.5" width="1.7" height="110.5" fill-opacity="0.34"/><rect x="78.9" y="296.5" width="2.9" height="110.5" fill-opacity="0.187"/><rect x="81.8" y="296.5" width="3.0" height="110.5" fill-opacity="0.301"/><rect x="84.8" y="296.5" width="2.9" height="110.5" fill-opacity="0.263"/><rect x="87.7" y="296.5" width="1.8" height="110.5" fill-opacity="0.187"/><rect x="89.5" y="296.5" width="2.9" height="110.5" fill-opacity="0.129"/><rect x="92.4" y="296.5" width="3.6" height="110.5" fill-opacity="0.263"/><rect x="96.0" y="296.5" width="3.5" height="110.5" fill-opacity="0.301"/><rect x="99.5" y="296.5" width="4.1" height="110.5" fill-opacity="0.148"/><rect x="103.6" y="296.5" width="2.9" height="110.5" fill-opacity="0.225"/><rect x="106.5" y="296.5" width="1.8" height="110.5" fill-opacity="0.263"/><rect x="108.3" y="296.5" width="3.5" height="110.5" fill-opacity="0.148"/><rect x="111.8" y="296.5" width="4.7" height="110.5" fill-opacity="0.072"/><rect x="116.5" y="296.5" width="3.5" height="110.5" fill-opacity="0.148"/><rect x="120.0" y="296.5" width="3.5" height="110.5" fill-opacity="0.225"/><rect x="123.5" y="296.5" width="3.5" height="110.5" fill-opacity="0.187"/><rect x="127.0" y="296.5" width="3.0" height="110.5" fill-opacity="0.263"/><rect x="130.0" y="296.5" width="2.9" height="110.5" fill-opacity="0.225"/><rect x="132.9" y="296.5" width="3.5" height="110.5" fill-opacity="0.148"/><rect x="136.4" y="296.5" width="1.8" height="110.5" fill-opacity="0.263"/><rect x="138.2" y="296.5" width="2.9" height="110.5" fill-opacity="0.129"/><rect x="141.1" y="296.5" width="2.3" height="110.5" fill-opacity="0.301"/><rect x="143.4" y="296.5" width="2.4" height="110.5" fill-opacity="0.263"/><rect x="145.8" y="296.5" width="4.7" height="110.5" fill-opacity="0.187"/><rect x="150.5" y="296.5" width="4.7" height="110.5" fill-opacity="0.282"/><rect x="155.2" y="296.5" width="3.5" height="110.5" fill-opacity="0.187"/><rect x="158.7" y="296.5" width="3.5" height="110.5" fill-opacity="0.11"/><rect x="162.2" y="296.5" width="3.5" height="110.5" fill-opacity="0.148"/><rect x="165.7" y="296.5" width="3.6" height="110.5" fill-opacity="0.129"/><rect x="169.3" y="296.5" width="4.7" height="110.5" fill-opacity="0.148"/><rect x="174.0" y="296.5" width="3.5" height="110.5" fill-opacity="0.11"/><rect x="177.5" y="296.5" width="4.7" height="110.5" fill-opacity="0.187"/><rect x="182.2" y="296.5" width="4.3" height="110.5" fill-opacity="0.187"/><rect x="98.8" y="296.5" width="1.0" height="110.5" fill-opacity="0.25"/><rect x="77.5" y="296.5" width="1.0" height="110.5" fill-opacity="0.12"/><rect x="142" y="296.5" width="1.0" height="110.5" fill-opacity="0.12"/></g></g>
<g clip-path="url(#ch)"><g filter="url(#fh)" fill="#000"><rect x="236.5" y="296.5" width="29.5" height="110.5" fill="url(#vg23)"/><rect x="266" y="296.5" width="40.0" height="110.5" fill="url(#vg24)"/><rect x="306" y="296.5" width="49.7" height="110.5" fill="url(#vg25)"/><rect x="256.632" y="339.4" width="4.5" height="36.6" fill="url(#vg26)"/><rect x="248.224" y="340.8" width="2.4" height="21.5" fill="url(#vg27)"/><rect x="249.5" y="357.6" width="4.0" height="1.4" fill-opacity="0.35"/><rect x="288.876" y="338" width="3.9" height="42.0" fill="url(#vg28)"/><rect x="276.832" y="342" width="4.5" height="13.0" fill="url(#vg29)"/><rect x="307.216" y="339.4" width="4.4" height="44.6" fill="url(#vg30)"/><ellipse cx="309.4" cy="345" rx="2.8" ry="3.5" fill-opacity="0.2"/><rect x="322.35200000000003" y="338" width="7.9" height="37.0" fill="url(#vg31)"/><rect x="346.232" y="338" width="4.5" height="37.0" fill="url(#vg32)"/><ellipse cx="247.5" cy="371" rx="3.3" ry="2.2" fill-opacity="0.3"/><ellipse cx="248" cy="384.5" rx="3" ry="3.2" fill-opacity="0.6"/><ellipse cx="254.5" cy="384.5" rx="2.6" ry="3.2" fill-opacity="0.55"/><ellipse cx="265" cy="384.5" rx="3.5" ry="3.2" fill-opacity="0.65"/><ellipse cx="276.5" cy="384.5" rx="5.5" ry="3" fill-opacity="0.45"/><ellipse cx="316" cy="388" rx="6" ry="4.5" fill-opacity="0.2"/></g></g>
<g clip-path="url(#ci)"><g filter="url(#fi)" fill="#000"><rect x="364.3" y="296.5" width="35.7" height="110.5" fill="url(#vg33)"/><rect x="400" y="296.5" width="30.0" height="110.5" fill="url(#vg34)"/><rect x="430" y="296.5" width="53.5" height="110.5" fill="url(#vg35)"/><rect x="384.632" y="340.8" width="4.5" height="20.2" fill="url(#vg36)"/><rect x="376.16" y="342" width="1.7" height="16.0" fill="url(#vg37)"/><rect x="377" y="357" width="3.0" height="1.3" fill-opacity="0.35"/><rect x="403.544" y="340.8" width="5.7" height="17.2" fill="url(#vg38)"/><rect x="403.94" y="357" width="4.6" height="20.0" fill="url(#vg39)"/><rect x="415.44" y="343" width="4.6" height="14.0" fill="url(#vg40)"/><rect x="415.86" y="366" width="3.8" height="9.0" fill="url(#vg41)"/><rect x="377.5" y="369.2" width="20.1" height="1.1" fill-opacity="0.18"/><ellipse cx="369" cy="392" rx="4" ry="5" fill-opacity="0.25"/><rect x="434.152" y="342" width="7.9" height="29.0" fill="url(#vg42)"/><ellipse cx="437" cy="350" rx="3.5" ry="5" fill-opacity="0.15"/><rect x="450.35200000000003" y="342" width="7.9" height="33.0" fill="url(#vg43)"/><polygon points="447,405 451,375 457,375 462,405" fill-opacity="0.15"/><rect x="473.14" y="344" width="6.7" height="26.0" fill="url(#vg44)"/><polygon points="469,405 475,365 479,365 483.5,405" fill-opacity="0.15"/></g></g>
<g clip-path="url(#cj)"><g filter="url(#fj)" fill="#000"><rect x="70" y="450.5" width="114.0" height="2.5" fill-opacity="0.06"/><ellipse cx="76.7" cy="451.5" rx="1" ry="1.2" fill-opacity="0.3"/><ellipse cx="83.9" cy="451.5" rx="1" ry="1.2" fill-opacity="0.25"/><ellipse cx="91" cy="451.5" rx="1" ry="1.2" fill-opacity="0.25"/><ellipse cx="100.6" cy="451.5" rx="1.2" ry="1.4" fill-opacity="0.55"/><rect x="106.5" y="450.5" width="2.5" height="2.5" fill-opacity="0.2"/><ellipse cx="116" cy="451.5" rx="1" ry="1.2" fill-opacity="0.2"/><ellipse cx="126.8" cy="451.5" rx="1" ry="1.2" fill-opacity="0.2"/><ellipse cx="136.7" cy="451.5" rx="1" ry="1.2" fill-opacity="0.18"/><ellipse cx="149.8" cy="451.5" rx="1" ry="1.2" fill-opacity="0.18"/><ellipse cx="158" cy="451.5" rx="1" ry="1.2" fill-opacity="0.18"/><ellipse cx="167.7" cy="451.5" rx="1" ry="1.2" fill-opacity="0.18"/><ellipse cx="84.5" cy="458.5" rx="1" ry="1.2" fill-opacity="0.2"/><ellipse cx="100.6" cy="458.5" rx="1" ry="1.2" fill-opacity="0.18"/><ellipse cx="125" cy="458.5" rx="1" ry="1.2" fill-opacity="0.15"/><rect x="70" y="478.3" width="114.0" height="2.7" fill-opacity="0.05"/><ellipse cx="76.7" cy="479.5" rx="1" ry="1.3" fill-opacity="0.35"/><ellipse cx="79.7" cy="483" rx="1" ry="1.3" fill-opacity="0.25"/><ellipse cx="84.5" cy="479.5" rx="1" ry="1.3" fill-opacity="0.3"/><ellipse cx="90.4" cy="479.5" rx="1" ry="1.3" fill-opacity="0.25"/><rect x="97.6" y="478" width="3.6" height="3.0" fill-opacity="0.55"/><rect x="105" y="478.3" width="11.0" height="2.7" fill-opacity="0.15"/><rect x="118.4" y="478" width="10.0" height="3.0" fill-opacity="0.4"/><rect x="122" y="477.5" width="4.0" height="4.5" fill-opacity="0.5"/><rect x="136.7" y="478.3" width="4.8" height="2.7" fill-opacity="0.12"/><rect x="154.6" y="478.3" width="3.4" height="2.7" fill-opacity="0.12"/><rect x="165.3" y="478" width="8.4" height="3.0" fill-opacity="0.3"/><rect x="169" y="477.5" width="1.7" height="4.5" fill-opacity="0.4"/><rect x="175" y="478.3" width="4.0" height="2.7" fill-opacity="0.1"/></g></g>
<g clip-path="url(#ck)"><g filter="url(#fk)" fill="#000"><rect x="236.5" y="424.5" width="119.2" height="110.5" fill="url(#vg45)"/><rect x="236.5" y="500" width="7.5" height="35.0" fill="url(#vg46)"/></g><g filter="url(#fk2)" fill="#000"><rect x="256.48" y="466.6" width="5.0" height="33.4" fill="url(#vg47)"/><rect x="288.924" y="466.6" width="4.5" height="35.4" fill="url(#vg48)"/><rect x="252" y="494.5" width="10.0" height="5.5" fill-opacity="0.2"/><rect x="272" y="496.5" width="6.5" height="2.0" fill-opacity="0.3"/><rect x="308.264" y="468" width="2.8" height="44.0" fill="url(#vg49)"/><rect x="323.288" y="466.6" width="7.2" height="33.4" fill="url(#vg50)"/><rect x="346.924" y="468" width="4.5" height="31.0" fill="url(#vg51)"/><rect x="308.28" y="492" width="2.9" height="17.0" fill="url(#vg52)"/></g><g filter="url(#fk3)" fill="#000"><ellipse cx="247.3" cy="497.8" rx="2.2" ry="2.2" fill-opacity="0.5"/><ellipse cx="247.4" cy="513" rx="3" ry="3.2" fill-opacity="0.85"/><ellipse cx="254.9" cy="513" rx="3" ry="3.2" fill-opacity="0.85"/><ellipse cx="264.2" cy="513" rx="3.5" ry="3.2" fill-opacity="0.95"/><ellipse cx="277.2" cy="513" rx="6" ry="3" fill-opacity="0.65"/><ellipse cx="315.5" cy="521" rx="5" ry="4.5" fill-opacity="0.45"/><ellipse cx="338.5" cy="512.5" rx="3.5" ry="2.8" fill-opacity="0.18"/></g></g>
<g clip-path="url(#cl)"><g filter="url(#fl)" fill="#000"><rect x="364.3" y="424.5" width="10.7" height="110.5" fill="url(#vg53)"/><rect x="375" y="424.5" width="81.0" height="110.5" fill="url(#vg54)"/><rect x="456" y="424.5" width="27.5" height="110.5" fill="url(#vg55)"/></g><g filter="url(#fl2)" fill="#000"><rect x="404.4" y="470.6" width="4.2" height="22.4" fill="url(#vg56)"/><rect x="410.66" y="491.9" width="1.7" height="13.1" fill="url(#vg57)"/><rect x="375.46000000000004" y="473" width="1.7" height="14.0" fill="url(#vg58)"/><rect x="377.3" y="498.3" width="6.7" height="1.5" fill-opacity="0.4"/><rect x="434.456" y="470.6" width="6.9" height="26.6" fill="url(#vg59)"/><rect x="439.78" y="488" width="2.9" height="12.0" fill="url(#vg60)"/><rect x="450.116" y="480" width="2.3" height="7.0" fill="url(#vg61)"/></g><g filter="url(#fl3)" fill="#000"></g></g>
<rect x="67.0" y="39.5" width="119.5" height="110.5" fill="none" stroke="#505050" stroke-width="1.1"/>
<path d="M96.3 39.5v1.6M96.3 150.0v-1.6" stroke="#555" stroke-width="0.8"/>
<path d="M126.8 39.5v1.6M126.8 150.0v-1.6" stroke="#555" stroke-width="0.8"/>
<path d="M157.0 39.5v1.6M157.0 150.0v-1.6" stroke="#555" stroke-width="0.8"/>
<path d="M67.0 68.1h1.6M186.5 68.1h-1.6" stroke="#555" stroke-width="0.8"/>
<path d="M67.0 94.8h1.6M186.5 94.8h-1.6" stroke="#555" stroke-width="0.8"/>
<path d="M67.0 121.5h1.6M186.5 121.5h-1.6" stroke="#555" stroke-width="0.8"/>
<rect x="67.0" y="168.0" width="119.5" height="111.0" fill="none" stroke="#505050" stroke-width="1.1"/>
<path d="M96.3 168.0v1.6M96.3 279.0v-1.6" stroke="#555" stroke-width="0.8"/>
<path d="M126.8 168.0v1.6M126.8 279.0v-1.6" stroke="#555" stroke-width="0.8"/>
<path d="M157.0 168.0v1.6M157.0 279.0v-1.6" stroke="#555" stroke-width="0.8"/>
<path d="M67.0 196.6h1.6M186.5 196.6h-1.6" stroke="#555" stroke-width="0.8"/>
<path d="M67.0 223.3h1.6M186.5 223.3h-1.6" stroke="#555" stroke-width="0.8"/>
<path d="M67.0 250.0h1.6M186.5 250.0h-1.6" stroke="#555" stroke-width="0.8"/>
<rect x="67.0" y="296.5" width="119.5" height="110.5" fill="none" stroke="#505050" stroke-width="1.1"/>
<path d="M96.3 296.5v1.6M96.3 407.0v-1.6" stroke="#555" stroke-width="0.8"/>
<path d="M126.8 296.5v1.6M126.8 407.0v-1.6" stroke="#555" stroke-width="0.8"/>
<path d="M157.0 296.5v1.6M157.0 407.0v-1.6" stroke="#555" stroke-width="0.8"/>
<path d="M67.0 325.1h1.6M186.5 325.1h-1.6" stroke="#555" stroke-width="0.8"/>
<path d="M67.0 351.8h1.6M186.5 351.8h-1.6" stroke="#555" stroke-width="0.8"/>
<path d="M67.0 378.5h1.6M186.5 378.5h-1.6" stroke="#555" stroke-width="0.8"/>
<rect x="67.0" y="424.5" width="119.5" height="110.5" fill="none" stroke="#505050" stroke-width="1.1"/>
<path d="M96.3 424.5v1.6M96.3 535.0v-1.6" stroke="#555" stroke-width="0.8"/>
<path d="M126.8 424.5v1.6M126.8 535.0v-1.6" stroke="#555" stroke-width="0.8"/>
<path d="M157.0 424.5v1.6M157.0 535.0v-1.6" stroke="#555" stroke-width="0.8"/>
<path d="M67.0 453.1h1.6M186.5 453.1h-1.6" stroke="#555" stroke-width="0.8"/>
<path d="M67.0 479.8h1.6M186.5 479.8h-1.6" stroke="#555" stroke-width="0.8"/>
<path d="M67.0 506.5h1.6M186.5 506.5h-1.6" stroke="#555" stroke-width="0.8"/>
<rect x="236.5" y="39.5" width="119.2" height="110.5" fill="none" stroke="#505050" stroke-width="1.1"/>
<path d="M265.8 39.5v1.6M265.8 150.0v-1.6" stroke="#555" stroke-width="0.8"/>
<path d="M296.3 39.5v1.6M296.3 150.0v-1.6" stroke="#555" stroke-width="0.8"/>
<path d="M326.5 39.5v1.6M326.5 150.0v-1.6" stroke="#555" stroke-width="0.8"/>
<path d="M236.5 43.4h1.6M355.7 43.4h-1.6" stroke="#555" stroke-width="0.8"/>
<path d="M236.5 61.5h1.6M355.7 61.5h-1.6" stroke="#555" stroke-width="0.8"/>
<path d="M236.5 79.6h1.6M355.7 79.6h-1.6" stroke="#555" stroke-width="0.8"/>
<path d="M236.5 97.7h1.6M355.7 97.7h-1.6" stroke="#555" stroke-width="0.8"/>
<path d="M236.5 115.8h1.6M355.7 115.8h-1.6" stroke="#555" stroke-width="0.8"/>
<path d="M236.5 133.9h1.6M355.7 133.9h-1.6" stroke="#555" stroke-width="0.8"/>
<rect x="236.5" y="168.0" width="119.2" height="111.0" fill="none" stroke="#505050" stroke-width="1.1"/>
<path d="M265.8 168.0v1.6M265.8 279.0v-1.6" stroke="#555" stroke-width="0.8"/>
<path d="M296.3 168.0v1.6M296.3 279.0v-1.6" stroke="#555" stroke-width="0.8"/>
<path d="M326.5 168.0v1.6M326.5 279.0v-1.6" stroke="#555" stroke-width="0.8"/>
<path d="M236.5 171.9h1.6M355.7 171.9h-1.6" stroke="#555" stroke-width="0.8"/>
<path d="M236.5 190.0h1.6M355.7 190.0h-1.6" stroke="#555" stroke-width="0.8"/>
<path d="M236.5 208.1h1.6M355.7 208.1h-1.6" stroke="#555" stroke-width="0.8"/>
<path d="M236.5 226.2h1.6M355.7 226.2h-1.6" stroke="#555" stroke-width="0.8"/>
<path d="M236.5 244.3h1.6M355.7 244.3h-1.6" stroke="#555" stroke-width="0.8"/>
<path d="M236.5 262.4h1.6M355.7 262.4h-1.6" stroke="#555" stroke-width="0.8"/>
<rect x="236.5" y="296.5" width="119.2" height="110.5" fill="none" stroke="#505050" stroke-width="1.1"/>
<path d="M265.8 296.5v1.6M265.8 407.0v-1.6" stroke="#555" stroke-width="0.8"/>
<path d="M296.3 296.5v1.6M296.3 407.0v-1.6" stroke="#555" stroke-width="0.8"/>
<path d="M326.5 296.5v1.6M326.5 407.0v-1.6" stroke="#555" stroke-width="0.8"/>
<path d="M236.5 300.4h1.6M355.7 300.4h-1.6" stroke="#555" stroke-width="0.8"/>
<path d="M236.5 318.5h1.6M355.7 318.5h-1.6" stroke="#555" stroke-width="0.8"/>
<path d="M236.5 336.6h1.6M355.7 336.6h-1.6" stroke="#555" stroke-width="0.8"/>
<path d="M236.5 354.7h1.6M355.7 354.7h-1.6" stroke="#555" stroke-width="0.8"/>
<path d="M236.5 372.8h1.6M355.7 372.8h-1.6" stroke="#555" stroke-width="0.8"/>
<path d="M236.5 390.9h1.6M355.7 390.9h-1.6" stroke="#555" stroke-width="0.8"/>
<rect x="236.5" y="424.5" width="119.2" height="110.5" fill="none" stroke="#505050" stroke-width="1.1"/>
<path d="M265.8 424.5v1.6M265.8 535.0v-1.6" stroke="#555" stroke-width="0.8"/>
<path d="M296.3 424.5v1.6M296.3 535.0v-1.6" stroke="#555" stroke-width="0.8"/>
<path d="M326.5 424.5v1.6M326.5 535.0v-1.6" stroke="#555" stroke-width="0.8"/>
<path d="M236.5 428.4h1.6M355.7 428.4h-1.6" stroke="#555" stroke-width="0.8"/>
<path d="M236.5 446.5h1.6M355.7 446.5h-1.6" stroke="#555" stroke-width="0.8"/>
<path d="M236.5 464.6h1.6M355.7 464.6h-1.6" stroke="#555" stroke-width="0.8"/>
<path d="M236.5 482.7h1.6M355.7 482.7h-1.6" stroke="#555" stroke-width="0.8"/>
<path d="M236.5 500.8h1.6M355.7 500.8h-1.6" stroke="#555" stroke-width="0.8"/>
<path d="M236.5 518.9h1.6M355.7 518.9h-1.6" stroke="#555" stroke-width="0.8"/>
<rect x="364.3" y="39.5" width="119.2" height="110.5" fill="none" stroke="#505050" stroke-width="1.1"/>
<path d="M393.6 39.5v1.6M393.6 150.0v-1.6" stroke="#555" stroke-width="0.8"/>
<path d="M424.1 39.5v1.6M424.1 150.0v-1.6" stroke="#555" stroke-width="0.8"/>
<path d="M454.3 39.5v1.6M454.3 150.0v-1.6" stroke="#555" stroke-width="0.8"/>
<path d="M364.3 43.4h1.6M483.5 43.4h-1.6" stroke="#555" stroke-width="0.8"/>
<path d="M364.3 61.5h1.6M483.5 61.5h-1.6" stroke="#555" stroke-width="0.8"/>
<path d="M364.3 79.6h1.6M483.5 79.6h-1.6" stroke="#555" stroke-width="0.8"/>
<path d="M364.3 97.7h1.6M483.5 97.7h-1.6" stroke="#555" stroke-width="0.8"/>
<path d="M364.3 115.8h1.6M483.5 115.8h-1.6" stroke="#555" stroke-width="0.8"/>
<path d="M364.3 133.9h1.6M483.5 133.9h-1.6" stroke="#555" stroke-width="0.8"/>
<rect x="364.3" y="168.0" width="119.2" height="111.0" fill="none" stroke="#505050" stroke-width="1.1"/>
<path d="M393.6 168.0v1.6M393.6 279.0v-1.6" stroke="#555" stroke-width="0.8"/>
<path d="M424.1 168.0v1.6M424.1 279.0v-1.6" stroke="#555" stroke-width="0.8"/>
<path d="M454.3 168.0v1.6M454.3 279.0v-1.6" stroke="#555" stroke-width="0.8"/>
<path d="M364.3 171.9h1.6M483.5 171.9h-1.6" stroke="#555" stroke-width="0.8"/>
<path d="M364.3 190.0h1.6M483.5 190.0h-1.6" stroke="#555" stroke-width="0.8"/>
<path d="M364.3 208.1h1.6M483.5 208.1h-1.6" stroke="#555" stroke-width="0.8"/>
<path d="M364.3 226.2h1.6M483.5 226.2h-1.6" stroke="#555" stroke-width="0.8"/>
<path d="M364.3 244.3h1.6M483.5 244.3h-1.6" stroke="#555" stroke-width="0.8"/>
<path d="M364.3 262.4h1.6M483.5 262.4h-1.6" stroke="#555" stroke-width="0.8"/>
<rect x="364.3" y="296.5" width="119.2" height="110.5" fill="none" stroke="#505050" stroke-width="1.1"/>
<path d="M393.6 296.5v1.6M393.6 407.0v-1.6" stroke="#555" stroke-width="0.8"/>
<path d="M424.1 296.5v1.6M424.1 407.0v-1.6" stroke="#555" stroke-width="0.8"/>
<path d="M454.3 296.5v1.6M454.3 407.0v-1.6" stroke="#555" stroke-width="0.8"/>
<path d="M364.3 300.4h1.6M483.5 300.4h-1.6" stroke="#555" stroke-width="0.8"/>
<path d="M364.3 318.5h1.6M483.5 318.5h-1.6" stroke="#555" stroke-width="0.8"/>
<path d="M364.3 336.6h1.6M483.5 336.6h-1.6" stroke="#555" stroke-width="0.8"/>
<path d="M364.3 354.7h1.6M483.5 354.7h-1.6" stroke="#555" stroke-width="0.8"/>
<path d="M364.3 372.8h1.6M483.5 372.8h-1.6" stroke="#555" stroke-width="0.8"/>
<path d="M364.3 390.9h1.6M483.5 390.9h-1.6" stroke="#555" stroke-width="0.8"/>
<rect x="364.3" y="424.5" width="119.2" height="110.5" fill="none" stroke="#505050" stroke-width="1.1"/>
<path d="M393.6 424.5v1.6M393.6 535.0v-1.6" stroke="#555" stroke-width="0.8"/>
<path d="M424.1 424.5v1.6M424.1 535.0v-1.6" stroke="#555" stroke-width="0.8"/>
<path d="M454.3 424.5v1.6M454.3 535.0v-1.6" stroke="#555" stroke-width="0.8"/>
<path d="M364.3 428.4h1.6M483.5 428.4h-1.6" stroke="#555" stroke-width="0.8"/>
<path d="M364.3 446.5h1.6M483.5 446.5h-1.6" stroke="#555" stroke-width="0.8"/>
<path d="M364.3 464.6h1.6M483.5 464.6h-1.6" stroke="#555" stroke-width="0.8"/>
<path d="M364.3 482.7h1.6M483.5 482.7h-1.6" stroke="#555" stroke-width="0.8"/>
<path d="M364.3 500.8h1.6M483.5 500.8h-1.6" stroke="#555" stroke-width="0.8"/>
<path d="M364.3 518.9h1.6M483.5 518.9h-1.6" stroke="#555" stroke-width="0.8"/>
<rect x="254.0" y="80.8" width="11.9" height="26.7" rx="0.8" fill="none" stroke="#26249e" stroke-width="1.3"/>
<rect x="273.0" y="80.8" width="12" height="26.7" rx="0.8" fill="none" stroke="#c8252e" stroke-width="1.3"/>
<rect x="381.8" y="80.8" width="11.9" height="26.7" rx="0.8" fill="none" stroke="#26249e" stroke-width="1.3"/>
<rect x="400.8" y="80.8" width="12" height="26.7" rx="0.8" fill="none" stroke="#c8252e" stroke-width="1.3"/>
<rect x="273.0" y="209.3" width="12" height="26.7" rx="0.8" fill="none" stroke="#c8252e" stroke-width="1.3"/>
<rect x="381.8" y="209.3" width="11.9" height="26.7" rx="0.8" fill="none" stroke="#26249e" stroke-width="1.3"/>
<rect x="273.0" y="337.8" width="12" height="26.7" rx="0.8" fill="none" stroke="#c8252e" stroke-width="1.3"/>
<rect x="381.8" y="337.8" width="11.9" height="26.7" rx="0.8" fill="none" stroke="#26249e" stroke-width="1.3"/>
<rect x="273.0" y="465.8" width="12" height="26.7" rx="0.8" fill="none" stroke="#c8252e" stroke-width="1.3"/>
<rect x="381.8" y="465.8" width="11.9" height="26.7" rx="0.8" fill="none" stroke="#26249e" stroke-width="1.3"/>
<text x="45.7" y="47.2" class="S" font-size="14" text-anchor="middle">-180</text>
<text x="45.7" y="74.1" class="S" font-size="14" text-anchor="middle">-90</text>
<text x="45.7" y="101.0" class="S" font-size="14" text-anchor="middle">0</text>
<text x="45.7" y="127.9" class="S" font-size="14" text-anchor="middle">90</text>
<text x="45.7" y="154.8" class="S" font-size="14" text-anchor="middle">180</text>
<text x="45.7" y="175.7" class="S" font-size="14" text-anchor="middle">-180</text>
<text x="45.7" y="202.6" class="S" font-size="14" text-anchor="middle">-90</text>
<text x="45.7" y="229.5" class="S" font-size="14" text-anchor="middle">0</text>
<text x="45.7" y="256.4" class="S" font-size="14" text-anchor="middle">90</text>
<text x="45.7" y="283.3" class="S" font-size="14" text-anchor="middle">180</text>
<text x="45.7" y="304.2" class="S" font-size="14" text-anchor="middle">-180</text>
<text x="45.7" y="331.1" class="S" font-size="14" text-anchor="middle">-90</text>
<text x="45.7" y="358.0" class="S" font-size="14" text-anchor="middle">0</text>
<text x="45.7" y="384.9" class="S" font-size="14" text-anchor="middle">90</text>
<text x="45.7" y="411.8" class="S" font-size="14" text-anchor="middle">180</text>
<text x="45.7" y="432.2" class="S" font-size="14" text-anchor="middle">-180</text>
<text x="45.7" y="459.1" class="S" font-size="14" text-anchor="middle">-90</text>
<text x="45.7" y="486.0" class="S" font-size="14" text-anchor="middle">0</text>
<text x="45.7" y="512.9" class="S" font-size="14" text-anchor="middle">90</text>
<text x="45.7" y="539.8" class="S" font-size="14" text-anchor="middle">180</text>
<text x="222.7" y="48.4" class="S" font-size="14" text-anchor="middle">12</text>
<text x="222.7" y="66.5" class="S" font-size="14" text-anchor="middle">10</text>
<text x="222.7" y="84.6" class="S" font-size="14" text-anchor="middle">8</text>
<text x="222.7" y="102.7" class="S" font-size="14" text-anchor="middle">6</text>
<text x="222.7" y="120.8" class="S" font-size="14" text-anchor="middle">4</text>
<text x="222.7" y="138.9" class="S" font-size="14" text-anchor="middle">2</text>
<text transform="translate(205.3 95.0) rotate(-90)" class="R" font-size="17.5" text-anchor="middle"><tspan class="i">f</tspan> [kHz]</text>
<text x="222.7" y="176.9" class="S" font-size="14" text-anchor="middle">12</text>
<text x="222.7" y="195.0" class="S" font-size="14" text-anchor="middle">10</text>
<text x="222.7" y="213.1" class="S" font-size="14" text-anchor="middle">8</text>
<text x="222.7" y="231.2" class="S" font-size="14" text-anchor="middle">6</text>
<text x="222.7" y="249.3" class="S" font-size="14" text-anchor="middle">4</text>
<text x="222.7" y="267.4" class="S" font-size="14" text-anchor="middle">2</text>
<text transform="translate(205.3 223.7) rotate(-90)" class="R" font-size="17.5" text-anchor="middle"><tspan class="i">f</tspan> [kHz]</text>
<text x="222.7" y="305.4" class="S" font-size="14" text-anchor="middle">12</text>
<text x="222.7" y="323.5" class="S" font-size="14" text-anchor="middle">10</text>
<text x="222.7" y="341.6" class="S" font-size="14" text-anchor="middle">8</text>
<text x="222.7" y="359.7" class="S" font-size="14" text-anchor="middle">6</text>
<text x="222.7" y="377.8" class="S" font-size="14" text-anchor="middle">4</text>
<text x="222.7" y="395.9" class="S" font-size="14" text-anchor="middle">2</text>
<text transform="translate(205.3 351.9) rotate(-90)" class="R" font-size="17.5" text-anchor="middle"><tspan class="i">f</tspan> [kHz]</text>
<text x="222.7" y="433.4" class="S" font-size="14" text-anchor="middle">12</text>
<text x="222.7" y="451.5" class="S" font-size="14" text-anchor="middle">10</text>
<text x="222.7" y="469.6" class="S" font-size="14" text-anchor="middle">8</text>
<text x="222.7" y="487.7" class="S" font-size="14" text-anchor="middle">6</text>
<text x="222.7" y="505.8" class="S" font-size="14" text-anchor="middle">4</text>
<text x="222.7" y="523.9" class="S" font-size="14" text-anchor="middle">2</text>
<text transform="translate(205.3 479.9) rotate(-90)" class="R" font-size="17.5" text-anchor="middle"><tspan class="i">f</tspan> [kHz]</text>
<text transform="translate(11.3 95.2) rotate(-90)" class="R" font-size="15" text-anchor="middle">clean</text>
<text transform="translate(29.5 94.8) rotate(-90)" class="R" font-size="15" text-anchor="middle"><tspan class="i">θ</tspan> [°]</text>
<text transform="translate(11.3 216.0) rotate(-90)" class="R" font-size="15" text-anchor="middle">recording</text>
<text transform="translate(29.5 223.5) rotate(-90)" class="R" font-size="15" text-anchor="middle"><tspan class="i">θ</tspan> [°]</text>
<text transform="translate(11.3 356.5) rotate(-90)" class="R" font-size="15" text-anchor="middle">cbf</text>
<text transform="translate(29.5 351.8) rotate(-90)" class="R" font-size="15" text-anchor="middle"><tspan class="i">θ</tspan> [°]</text>
<text transform="translate(11.3 484.7) rotate(-90)" class="R" font-size="15" text-anchor="middle">sbl</text>
<text transform="translate(29.5 479.8) rotate(-90)" class="R" font-size="15" text-anchor="middle"><tspan class="i">θ</tspan> [°]</text>
<text x="185.9" y="55.1" class="R" text-anchor="end"><tspan font-size="17">(</tspan><tspan font-size="14">a</tspan><tspan font-size="17">)</tspan></text>
<text x="355.1" y="55.1" class="R" text-anchor="end"><tspan font-size="17">(</tspan><tspan font-size="14">b</tspan><tspan font-size="17">)</tspan></text>
<text x="482.9" y="55.1" class="R" text-anchor="end"><tspan font-size="17">(</tspan><tspan font-size="14">c</tspan><tspan font-size="17">)</tspan></text>
<text x="185.9" y="183.6" class="R" text-anchor="end"><tspan font-size="17">(</tspan><tspan font-size="14">d</tspan><tspan font-size="17">)</tspan></text>
<text x="355.1" y="183.6" class="R" text-anchor="end"><tspan font-size="17">(</tspan><tspan font-size="14">e</tspan><tspan font-size="17">)</tspan></text>
<text x="482.9" y="183.6" class="R" text-anchor="end"><tspan font-size="17">(</tspan><tspan font-size="14">f</tspan><tspan font-size="17">)</tspan></text>
<text x="185.9" y="312.1" class="R" text-anchor="end"><tspan font-size="17">(</tspan><tspan font-size="14">g</tspan><tspan font-size="17">)</tspan></text>
<text x="355.1" y="312.1" class="R" text-anchor="end"><tspan font-size="17">(</tspan><tspan font-size="14">h</tspan><tspan font-size="17">)</tspan></text>
<text x="482.9" y="312.1" class="R" text-anchor="end"><tspan font-size="17">(</tspan><tspan font-size="14">i</tspan><tspan font-size="17">)</tspan></text>
<text x="185.9" y="440.1" class="R" text-anchor="end"><tspan font-size="17">(</tspan><tspan font-size="14">j</tspan><tspan font-size="17">)</tspan></text>
<text x="355.1" y="440.1" class="R" text-anchor="end"><tspan font-size="17">(</tspan><tspan font-size="14">k</tspan><tspan font-size="17">)</tspan></text>
<text x="482.9" y="440.1" class="R" text-anchor="end"><tspan font-size="17">(</tspan><tspan font-size="14">l</tspan><tspan font-size="17">)</tspan></text>
<text x="97.0" y="556.2" class="S" font-size="14" text-anchor="middle">0.5</text>
<text x="122.2" y="556.2" class="S" font-size="14" text-anchor="middle">1</text>
<text x="157.6" y="556.2" class="S" font-size="14" text-anchor="middle">1.5</text>
<text x="181.8" y="556.2" class="S" font-size="14" text-anchor="middle">2</text>
<text x="107.8" y="575.4" class="R i" font-size="16.5" text-anchor="middle">t</text>
<text x="132.6" y="575.4" class="R" font-size="16" text-anchor="middle">[sec]</text>
<text x="266.5" y="556.2" class="S" font-size="14" text-anchor="middle">0.5</text>
<text x="291.7" y="556.2" class="S" font-size="14" text-anchor="middle">1</text>
<text x="327.1" y="556.2" class="S" font-size="14" text-anchor="middle">1.5</text>
<text x="351.3" y="556.2" class="S" font-size="14" text-anchor="middle">2</text>
<text x="277.1" y="575.4" class="R i" font-size="16.5" text-anchor="middle">t</text>
<text x="301.9" y="575.4" class="R" font-size="16" text-anchor="middle">[sec]</text>
<text x="394.3" y="556.2" class="S" font-size="14" text-anchor="middle">0.5</text>
<text x="419.5" y="556.2" class="S" font-size="14" text-anchor="middle">1</text>
<text x="454.9" y="556.2" class="S" font-size="14" text-anchor="middle">1.5</text>
<text x="479.1" y="556.2" class="S" font-size="14" text-anchor="middle">2</text>
<text x="404.9" y="575.4" class="R i" font-size="16.5" text-anchor="middle">t</text>
<text x="429.7" y="575.4" class="R" font-size="16" text-anchor="middle">[sec]</text>
<text x="301" y="36.7" class="R" font-size="16.5" text-anchor="middle"><tspan class="i">θ</tspan> = 0°</text>
<text x="429" y="36.7" class="R" font-size="16.5" text-anchor="middle"><tspan class="i">θ</tspan> = −90°</text>
<defs><linearGradient id="gh" x1="0" x2="1" y1="0" y2="0"><stop offset="0" stop-color="#000"/><stop offset="1" stop-color="#fff"/></linearGradient><linearGradient id="gv" x1="0" x2="0" y1="0" y2="1"><stop offset="0" stop-color="#000"/><stop offset="1" stop-color="#fff"/></linearGradient></defs>
<rect x="67" y="18.3" width="119.5" height="9.2" fill="url(#gh)" stroke="#444" stroke-width="0.8"/>
<text x="63.2" y="10.1" class="S" font-size="13.5" text-anchor="middle">0</text>
<text x="94.8" y="10.1" class="S" font-size="13.5" text-anchor="middle">-5</text>
<text x="127.0" y="10.1" class="S" font-size="13.5" text-anchor="middle">-10</text>
<text x="156.5" y="10.1" class="S" font-size="13.5" text-anchor="middle">-15</text>
<text x="186.3" y="10.1" class="S" font-size="13.5" text-anchor="middle">-20</text>
<text x="53.6" y="28.4" class="S" font-size="13.5" text-anchor="middle">dB</text>
<rect x="486.5" y="38" width="9.3" height="497.7" fill="url(#gv)" stroke="#444" stroke-width="0.8"/>
<path d="M486.5 38.0h1.5M495.8 38.0h-1.5" stroke="#777" stroke-width="0.8"/>
<text x="500.5" y="42.6" class="S" font-size="13.5" text-anchor="start">0</text>
<path d="M486.5 162.4h1.5M495.8 162.4h-1.5" stroke="#777" stroke-width="0.8"/>
<text x="500.5" y="168.2" class="S" font-size="13.5" text-anchor="start">-10</text>
<path d="M486.5 286.8h1.5M495.8 286.8h-1.5" stroke="#777" stroke-width="0.8"/>
<text x="500.5" y="292.6" class="S" font-size="13.5" text-anchor="start">-20</text>
<path d="M486.5 411.2h1.5M495.8 411.2h-1.5" stroke="#777" stroke-width="0.8"/>
<text x="500.5" y="417.0" class="S" font-size="13.5" text-anchor="start">-30</text>
<path d="M486.5 535.6h1.5M495.8 535.6h-1.5" stroke="#777" stroke-width="0.8"/>
<text x="500.5" y="541.4" class="S" font-size="13.5" text-anchor="start">-40</text>
<text x="491.0" y="30.2" class="S" font-size="13.5" text-anchor="middle">dB</text>
</svg>
</body></html>
